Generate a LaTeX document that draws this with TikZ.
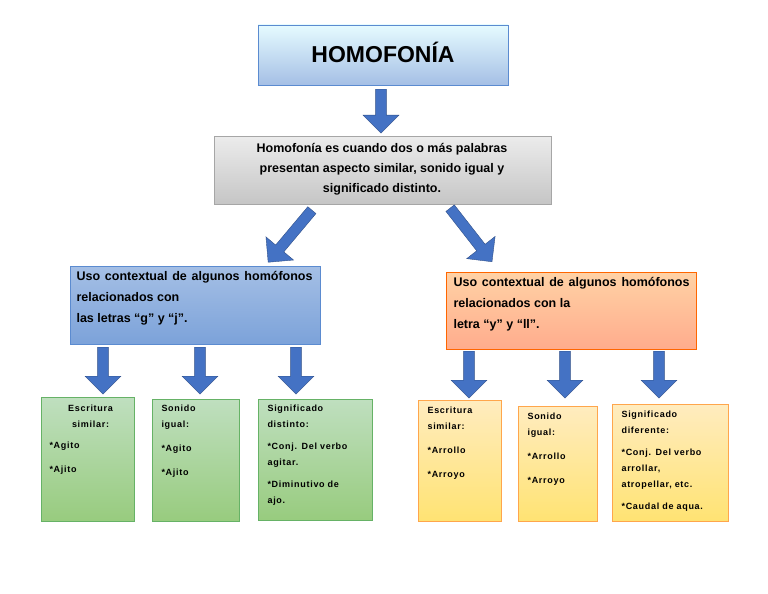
\documentclass[tikz,border=0pt]{standalone}
\usepackage{fontspec}
\setmainfont{Liberation Sans}
\usetikzlibrary{shapes.arrows}
\definecolor{arrblue}{HTML}{4472C4}
\definecolor{bdblue}{HTML}{5B8BD0}
\tikzset{
 barrow/.style={single arrow, fill=arrblue, draw=arrblue!70!black, line width=0.4pt, minimum width=36pt, single arrow head extend=10pt, single arrow head indent=0pt, inner sep=4pt, anchor=tail},
 txt/.style={font=\bfseries\fontsize{9}{16}\selectfont\addfontfeatures{LetterSpace=8}, align=left, anchor=north west, text width=#1},
 mid/.style={align=justify, text width=236pt, font=\bfseries\fontsize{12.5}{21}\selectfont, anchor=north west},
}
\begin{document}
\begin{tikzpicture}[x=1pt,y=-1pt]
\useasboundingbox (0,0) rectangle (768,594);
\fill[white] (0,0) rectangle (768,594);
% title
\shade[top color=blue!15!cyan!10, bottom color=bdblue!55, draw=bdblue] (258,25) rectangle (508,85);
\node (t) at (383,52) {\bfseries\fontsize{23}{26}\selectfont HOMOFONÍA};
% def
\shade[top color=gray!15, bottom color=gray!45, draw=gray!70] (214,136) rectangle (551,204);
\node[align=center, font=\bfseries\fontsize{12.5}{20}\selectfont] (d) at (382,169) {Homofonía es cuando dos o más palabras\\presentan aspecto similar, sonido igual y\\significado distinto.};
\node[barrow, minimum height=44pt, rotate=-90] (a0) at (381,89) {};
\node[barrow, minimum height=68pt, rotate=-130] (a1) at (312,210) {};
\node[barrow, minimum height=68pt, rotate=-52] (a2) at (450,208) {};
% level 2
\shade[top color=bdblue!55, bottom color=bdblue!80, draw=bdblue] (70,266) rectangle (320,344);
\node[mid] (L) at (73,268) {\hyphenpenalty=10000 Uso contextual de algunos homófonos relacionados con\par\raggedright las letras “g” y “j”.};
\shade[top color=orange!35, bottom color=orange!55!red!45, draw=orange!80!red] (446,272) rectangle (696,349);
\node[mid] (R) at (450,274) {\hyphenpenalty=10000 Uso contextual de algunos homófonos relacionados con la\par\raggedright letra “y” y “ll”.};
% down arrows
\foreach \x/\n in {103/b1,200/b2,296/b3}{\node[barrow, minimum height=47pt, rotate=-90] (\n) at (\x,347) {};}
\foreach \x/\n in {469/c1,565/c2,659/c3}{\node[barrow, minimum height=47pt, rotate=-90] (\n) at (\x,351) {};}
% green boxes
\foreach \a/\b/\c/\d in {41/397/134/521,152/399/239/521,258/399/372/520}{
 \shade[top color=green!50!black!25!white, bottom color=green!50!black!45!white!90!yellow, draw=green!50!black!60] (\a,\b) rectangle (\c,\d);}
\node[txt=88pt, align=center] (g1) at (43,401) {Escritura\\similar:};
\node[txt=88pt] (g1b) at (46,438) {{*}Agito\\[8pt]{*}Ajito};
\node[txt=80pt] (g2) at (158,401) {Sonido\\igual:\\[8pt]{*}Agito\\[8pt]{*}Ajito};
\node[txt=110pt] (g3) at (264,401) {Significado\\distinto:\\[6pt]{*}Conj. Del verbo\\agitar.\\[6pt]{*}Diminutivo de\\ajo.};
% orange boxes
\foreach \a/\b/\c/\d in {418/400/501/521,518/406/597/521,612/404/728/521}{
 \shade[top color=yellow!40!orange!25, bottom color=yellow!60!orange!55, draw=orange!70] (\a,\b) rectangle (\c,\d);}
\node[txt=80pt] (o1) at (424,403) {Escritura\\similar:\\[8pt]{*}Arrollo\\[8pt]{*}Arroyo};
\node[txt=76pt] (o2) at (524,409) {Sonido\\igual:\\[8pt]{*}Arrollo\\[8pt]{*}Arroyo};
\node[txt=114pt] (o3) at (618,407) {Significado\\diferente:\\[6pt]{*}Conj. Del verbo\\arrollar,\\atropellar, etc.\\[6pt]{*}Caudal de aqua.};
\end{tikzpicture}
\end{document}
